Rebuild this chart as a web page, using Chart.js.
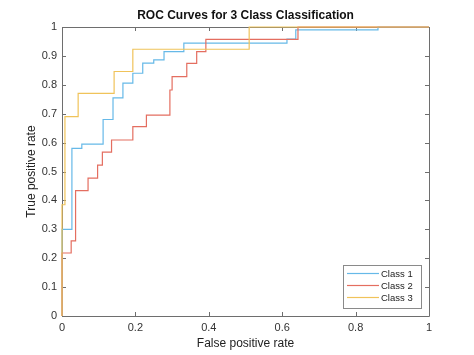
<!DOCTYPE html>
<html>
<head>
<meta charset="utf-8">
<script src="https://cdn.jsdelivr.net/npm/chart.js@4/dist/chart.umd.min.js"></script>
<style>
html,body{margin:0;padding:0;background:#fff;}
#wrap{width:474px;height:355px;position:relative;}
</style>
</head>
<body>
<div id="wrap"><canvas id="c" width="474" height="355"></canvas></div>
<script>
// ---- data (ROC corner points) ----
const seriesNames = ["Class 1", "Class 2", "Class 3"];
const class1FPR = [0,0,0.027,0.027,0.054,0.054,0.112,0.112,0.139,0.139,0.166,0.166,0.193,0.193,0.22,0.22,0.25,0.25,0.278,0.278,0.332,0.332,0.613,0.613,0.637,0.637,0.861,0.861,1];
const class1TPR = [0,0.30,0.30,0.58,0.58,0.595,0.595,0.68,0.68,0.755,0.755,0.806,0.806,0.84,0.84,0.875,0.875,0.886,0.886,0.915,0.915,0.944,0.944,0.958,0.958,0.99,0.99,1,1];
const class2FPR = [0,0,0.025,0.025,0.037,0.037,0.071,0.071,0.097,0.097,0.11,0.11,0.135,0.135,0.193,0.193,0.23,0.23,0.294,0.294,0.30,0.30,0.34,0.34,0.367,0.367,0.392,0.392,0.643,0.643,1];
const class2TPR = [0,0.218,0.218,0.26,0.26,0.434,0.434,0.477,0.477,0.522,0.522,0.567,0.567,0.609,0.609,0.655,0.655,0.695,0.695,0.782,0.782,0.828,0.828,0.874,0.874,0.915,0.915,0.957,0.957,1,1];
const class3FPR = [0,0,0.008,0.008,0.044,0.044,0.142,0.142,0.193,0.193,0.51,0.51,1];
const class3TPR = [0,0.385,0.385,0.69,0.69,0.77,0.77,0.846,0.846,0.923,0.923,1,1];
const xTicks = [0,0.2,0.4,0.6,0.8,1];
const yTicks = [0,0.1,0.2,0.3,0.4,0.5,0.6,0.7,0.8,0.9,1];
const chartTitle = "ROC Curves for 3 Class Classification";
const xLabel = "False positive rate";
const yLabel = "True positive rate";

const colors = ["#66b9e8", "#e46e60", "#f0c35a"];
const FONT = "'Liberation Sans', Arial, Helvetica, sans-serif";
const AXIS = "#6e6e6e";

function pts(xs, ys){ return xs.map((x,i)=>({x:x, y:ys[i]})); }

const boxPlugin = {
  id: 'matlabBox',
  beforeDatasetsDraw(chart){
    const {ctx, chartArea:a, scales} = chart;
    ctx.save();
    ctx.strokeStyle = AXIS;
    ctx.lineWidth = 1;
    ctx.beginPath();
    ctx.rect(Math.round(a.left)+0.5, Math.round(a.top)+0.5, Math.round(a.right-a.left), Math.round(a.bottom-a.top));
    ctx.stroke();
    const tl = 4;
    ctx.beginPath();
    xTicks.forEach(v=>{
      const px = Math.round(scales.x.getPixelForValue(v))+0.5;
      ctx.moveTo(px, a.bottom); ctx.lineTo(px, a.bottom - tl);
      ctx.moveTo(px, a.top); ctx.lineTo(px, a.top + tl);
    });
    yTicks.forEach(v=>{
      const py = Math.round(scales.y.getPixelForValue(v))+0.5;
      ctx.moveTo(a.left, py); ctx.lineTo(a.left + tl, py);
      ctx.moveTo(a.right, py); ctx.lineTo(a.right - tl, py);
    });
    ctx.stroke();
    ctx.restore();
  },
  afterDraw(chart){
    const {ctx, chartArea:a} = chart;
    ctx.save();
    // title
    ctx.fillStyle = "#111";
    ctx.font = "bold 12px " + FONT;
    ctx.textAlign = "center";
    ctx.textBaseline = "middle";
    ctx.fillText(chartTitle, (a.left + a.right)/2, 16);
    // legend
    const lx = 343.5, ly = 265.5, lw = 78, lh = 43;
    ctx.fillStyle = "#fff";
    ctx.fillRect(lx, ly, lw, lh);
    ctx.strokeStyle = "#8a8a8a";
    ctx.lineWidth = 1;
    ctx.strokeRect(lx, ly, lw, lh);
    ctx.font = "9.5px " + FONT;
    ctx.textAlign = "left";
    chart.data.datasets.forEach((ds, i)=>{
      const y = 273.5 + i*12;
      ctx.strokeStyle = ds.borderColor;
      ctx.lineWidth = 1.2;
      ctx.beginPath(); ctx.moveTo(347, y); ctx.lineTo(379, y); ctx.stroke();
      ctx.fillStyle = "#222";
      ctx.fillText(ds.label, 381, y + 0.5);
    });
    ctx.restore();
  }
};

new Chart(document.getElementById('c'), {
  type: 'scatter',
  data: {
    datasets: [
      {label: seriesNames[0], data: pts(class1FPR, class1TPR), borderColor: colors[0], order: 3},
      {label: seriesNames[1], data: pts(class2FPR, class2TPR), borderColor: colors[1], order: 2},
      {label: seriesNames[2], data: pts(class3FPR, class3TPR), borderColor: colors[2], order: 1}
    ].map(d=>Object.assign(d, {showLine:true, borderWidth:1.2, pointRadius:0, pointHoverRadius:0, tension:0, fill:false, clip:2, backgroundColor:d.borderColor}))
  },
  options: {
    responsive: false,
    animation: false,
    events: [],
    layout: {padding: {left:0, top:27, right:45, bottom:0}},
    plugins: {legend: {display:false}, title: {display:false}, tooltip: {enabled:false}},
    scales: {
      x: {
        type: 'linear', min: 0, max: 1,
        afterBuildTicks(s){ s.ticks = xTicks.map(v=>({value:v})); },
        afterFit(s){ s.height = 39; },
        grid: {display:false, drawTicks:false},
        border: {display:false},
        ticks: {padding: 5, color: "#333", font: {family: FONT, size: 11}, maxRotation: 0, autoSkip: false,
                callback: v => String(v)},
        title: {display: true, text: xLabel, color: "#222", font: {family: FONT, size: 12}, padding: {top:0, bottom:3.8}}
      },
      y: {
        type: 'linear', min: 0, max: 1,
        afterBuildTicks(s){ s.ticks = yTicks.map(v=>({value:v})); },
        afterFit(s){ s.width = 62; },
        grid: {display:false, drawTicks:false},
        border: {display:false},
        ticks: {padding: 5, color: "#333", font: {family: FONT, size: 11}, autoSkip: false,
                callback: v => String(v)},
        title: {display: true, text: yLabel, color: "#222", font: {family: FONT, size: 12}, padding: {top:24, bottom:0}}
      }
    }
  },
  plugins: [boxPlugin]
});
</script>
</body>
</html>
